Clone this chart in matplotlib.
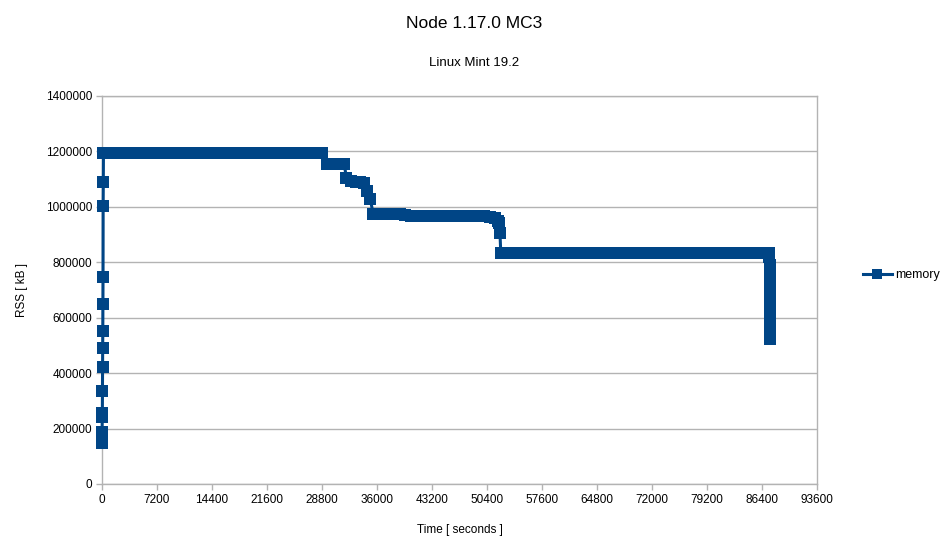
import matplotlib
matplotlib.use("Agg")
import matplotlib.pyplot as plt

plt.rcParams['font.family'] = ['Liberation Sans', 'DejaVu Sans']

# ---- data (time in seconds, RSS in kB) ----
start_times = [0, 15, 30, 45, 60, 75, 90, 105, 120, 135, 150, 170, 190, 240]
start_mem = [148000, 188000, 242000, 256000, 336000, 422000, 491000, 552000,
             649000, 748000, 1003000, 1090000, 1196000, 1196000]

plateau1_times = [1200, 2400, 3600, 4800, 6000, 7200, 8400, 9600, 10800, 12000,
                  13200, 14400, 15600, 16800, 18000, 19200, 20400, 21600, 22800,
                  24000, 25200, 26400, 27600, 28800]
plateau1_mem = [1196000] * 24

steps_times = [29400, 30000, 30600, 31200, 31700, 32000, 32600, 33200, 33800,
               34300, 34700, 35100, 35500, 36400, 37300, 38200, 39000, 39600,
               40400, 41600, 42800, 44000, 45200, 46400, 47600, 48800, 50000,
               50800, 51400, 51900, 52000, 52100, 52200]
steps_mem = [1156000, 1156000, 1155000, 1155000, 1154000, 1105000, 1095000,
             1090000, 1090000, 1085000, 1058000, 1030000, 975000, 975000,
             975000, 975000, 974000, 972000, 968000, 968000, 968000, 968000,
             968000, 968000, 968000, 968000, 967000, 965000, 958000, 950000,
             940000, 905000, 835000]

plateau2_times = [52800, 53400, 54600, 55800, 57000, 58200, 59400, 60600, 61800,
                  63000, 64200, 65400, 66600, 67800, 69000, 70200, 71400, 72600,
                  73800, 75000, 76200, 77400, 78600, 79800, 81000, 82200, 83400,
                  84600, 85800, 87000, 87300]
plateau2_mem = [835000] * 31

end_times = [87380, 87390, 87400, 87405, 87410, 87415, 87420, 87425, 87430,
             87435, 87440, 87445]
end_mem = [820000, 790000, 760000, 730000, 700000, 670000, 640000, 610000,
           580000, 555000, 535000, 523000]

times = start_times + plateau1_times + steps_times + plateau2_times + end_times
memory = start_mem + plateau1_mem + steps_mem + plateau2_mem + end_mem

x_ticks = [0, 7200, 14400, 21600, 28800, 36000, 43200, 50400, 57600, 64800,
           72000, 79200, 86400, 93600]
y_ticks = [0, 200000, 400000, 600000, 800000, 1000000, 1200000, 1400000]

# ---- figure ----
fig = plt.figure(figsize=(9.48, 5.54), dpi=100)
ax = fig.add_axes([102/948, 1 - 484/554, (817 - 102)/948, (484 - 96)/554])

color = '#004586'
gray = '#b3b3b3'
ax.plot(times, memory, color=color, linewidth=2.2, marker='s', markersize=8,
        markeredgewidth=0, label='memory', clip_on=False, zorder=3)

ax.set_xlim(0, 93600)
ax.set_ylim(0, 1400000)
ax.set_xticks(x_ticks)
ax.set_xticklabels([str(v) for v in x_ticks])
ax.set_yticks(y_ticks)
ax.set_yticklabels([str(v) for v in y_ticks])

ax.yaxis.grid(True, color=gray, linewidth=1)
ax.set_axisbelow(True)
for s in ax.spines.values():
    s.set_color(gray)
    s.set_linewidth(1)
ax.tick_params(axis='both', direction='out', length=4, width=1, color=gray,
               labelsize=8.5, labelcolor='black', pad=3)

fig.text(474/948, 1 - 24/554, 'Node 1.17.0 MC3', ha='center', va='center',
         fontsize=12.5)
fig.text(474/948, 1 - 63/554, 'Linux Mint 19.2', ha='center', va='center',
         fontsize=9.5)
fig.text(460/948, 1 - 530/554, 'Time [ seconds ]', ha='center', va='center',
         fontsize=8.5)
fig.text(22/948, 1 - 290/554, 'RSS [ kB ]', ha='center', va='center',
         fontsize=8.5, rotation=90)

leg = fig.legend(loc='center left', bbox_to_anchor=(858/948, 1 - 275/554),
                 frameon=False, fontsize=9, handlelength=2.3,
                 handletextpad=0.3, borderaxespad=0)
for h in leg.legend_handles:
    h.set_markersize(7)

fig.savefig('out.png', dpi=100)
